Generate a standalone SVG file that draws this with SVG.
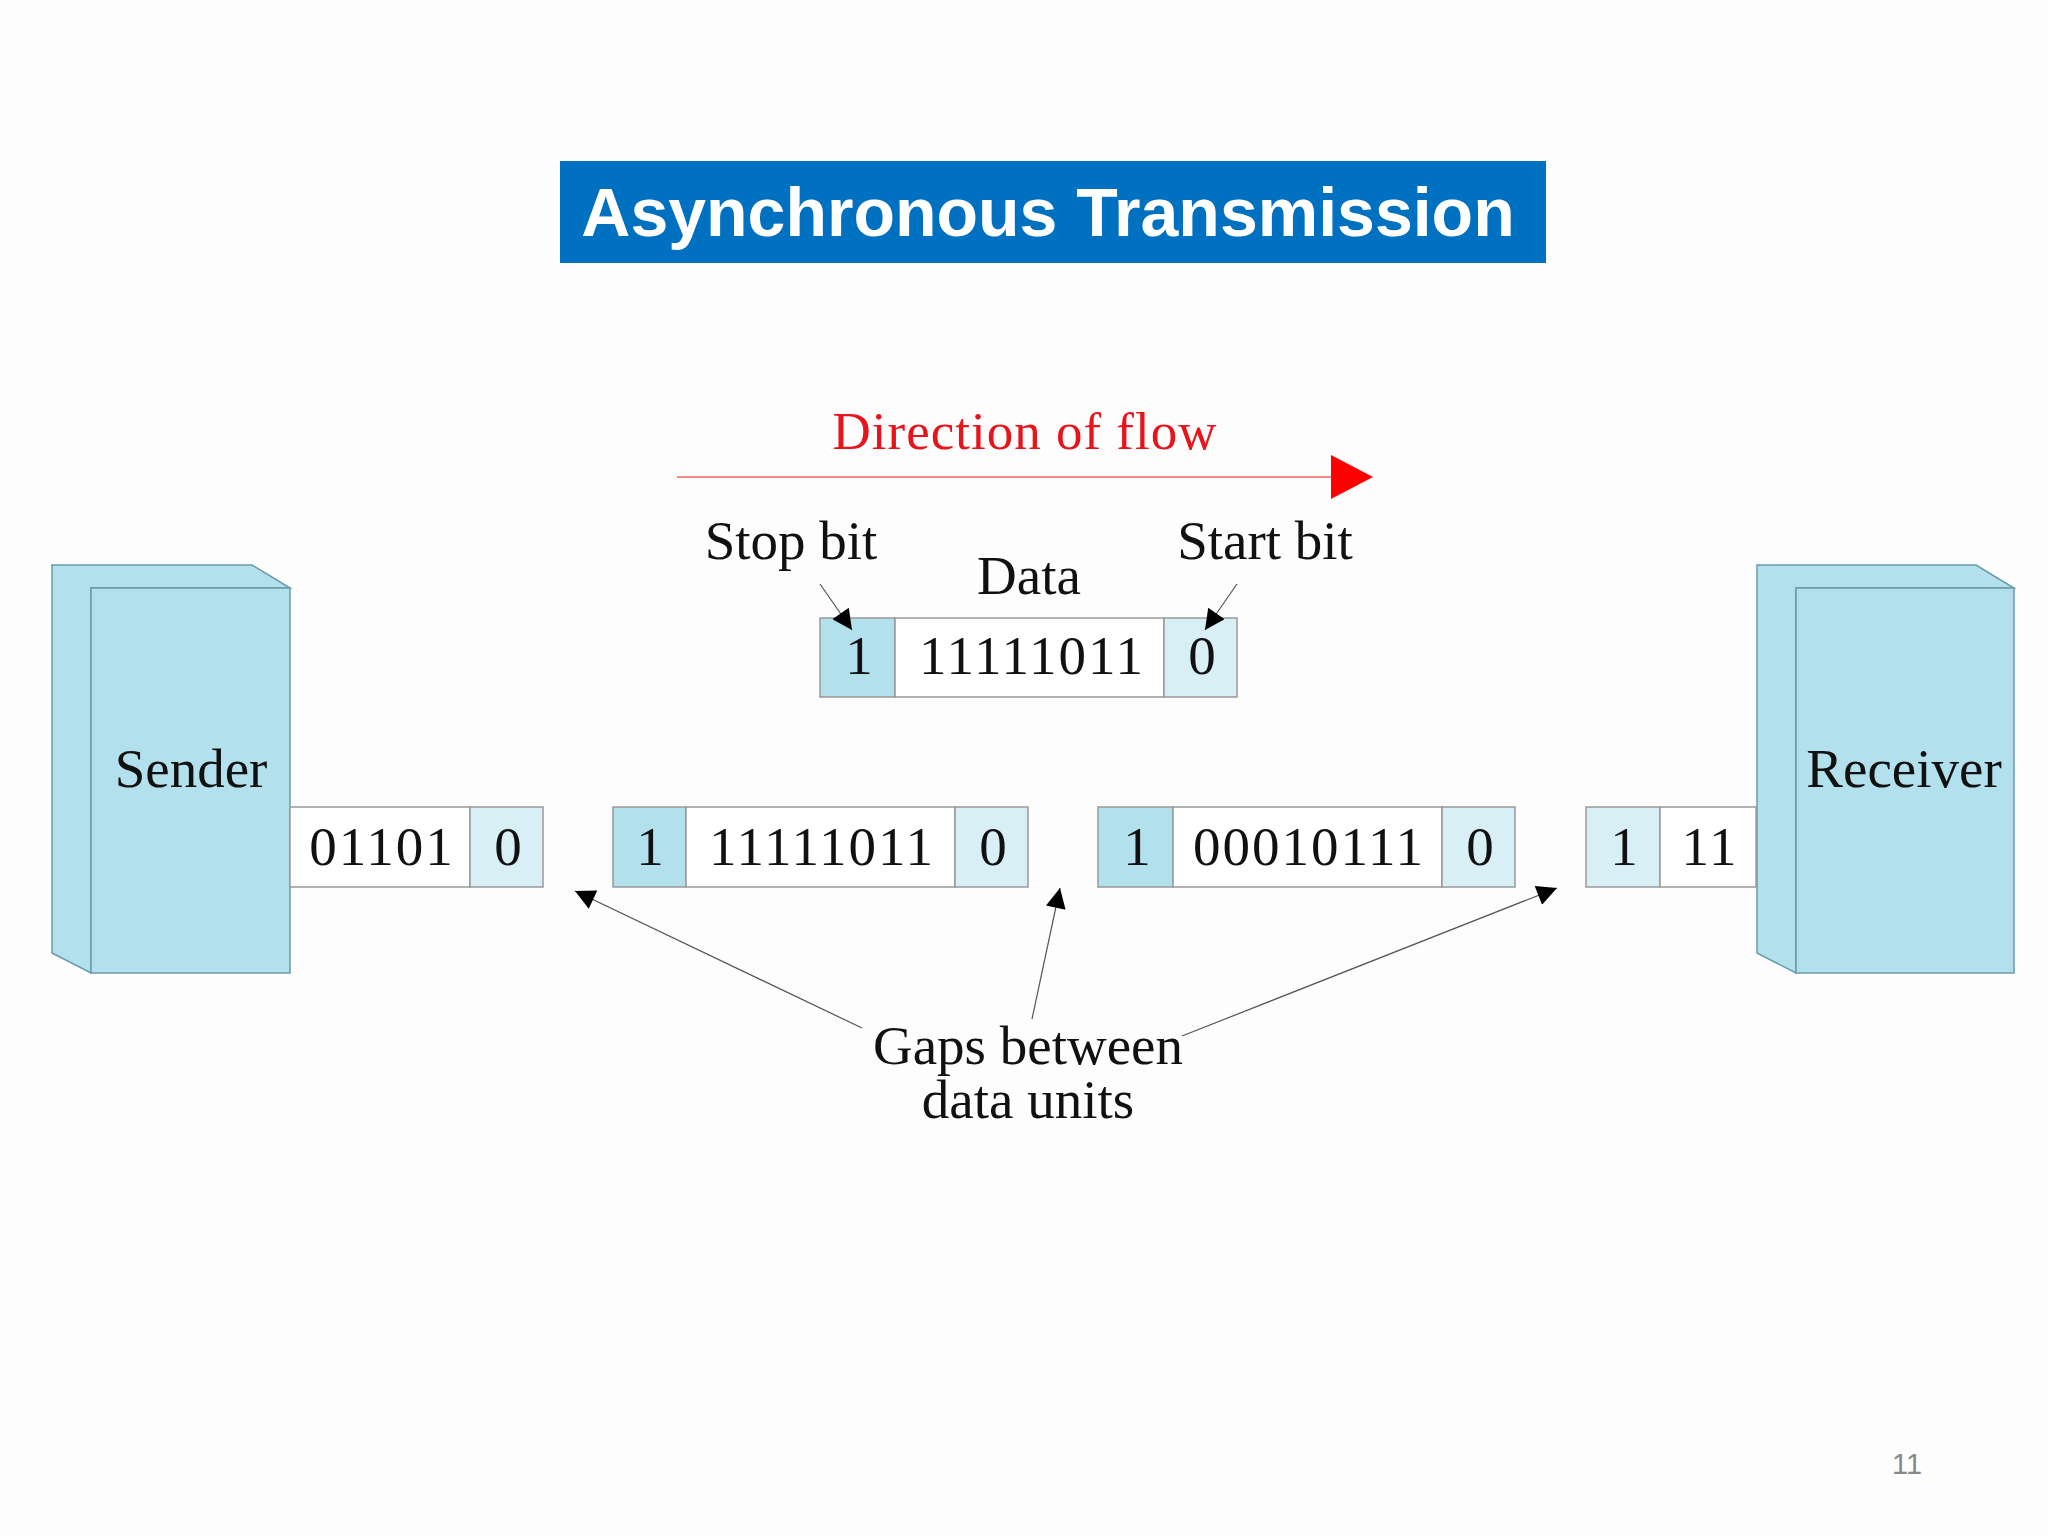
<svg xmlns="http://www.w3.org/2000/svg" width="2048" height="1536" viewBox="0 0 2048 1536">
<style>
.t{font-family:"Liberation Serif",serif;fill:#111}
.c{stroke:#999;stroke-width:1.5}
.d{fill:#b2e0ec}.l{fill:#d9eff6}.w{fill:#fff}
.box{fill:#b2e0ec;stroke:#6a9aa6;stroke-width:1.5}
.ln{stroke:#555;stroke-width:1.2;fill:none}
</style>
<defs>
<marker id="a" viewBox="0 0 10 10" refX="10" refY="5" markerWidth="22" markerHeight="20" markerUnits="userSpaceOnUse" orient="auto"><path d="M0,0L10,5L0,10z" fill="#000"/></marker>
</defs>
<rect width="2048" height="1536" fill="#fdfdfe"/>
<g id="title"><rect x="560" y="161" width="986" height="102" fill="#0070c0"/>
<text x="1048" y="236" text-anchor="middle" font-family="Liberation Sans,Arial,sans-serif" font-weight="bold" font-size="68" fill="#fff">Asynchronous Transmission</text></g>
<g id="flow"><text class="t" x="1025" y="449" text-anchor="middle" font-size="53" style="fill:#e8141c" letter-spacing="1">Direction of flow</text>
<line x1="677" y1="477" x2="1335" y2="477" stroke="#f26060" stroke-width="1.5"/>
<path d="M1331,455L1373,477L1331,499z" fill="#f00"/></g>
<g id="sender"><path class="box" d="M52,565L252,565L290,588L91,588L91,973L52,953z"/><rect class="box" x="91" y="588" width="199" height="385"/>
<text class="t" x="191" y="787" text-anchor="middle" font-size="55">Sender</text></g>
<g id="receiver"><path class="box" d="M1757,565L1976,565L2014,588L1796,588L1796,973L1757,953z"/><rect class="box" x="1796" y="588" width="218" height="385"/>
<text class="t" x="1904" y="787" text-anchor="middle" font-size="55">Receiver</text></g>
<g id="labels" class="t" font-size="55" text-anchor="middle">
<text x="791" y="559">Stop bit</text><text x="1265" y="559">Start bit</text><text x="1029" y="594">Data</text>
<text x="1028" y="1064">Gaps between</text><text x="1028" y="1118">data units</text></g>
<g id="frameTop"><rect class="d c" x="820" y="618" width="75" height="79"/><rect class="w c" x="895" y="618" width="269" height="79"/><rect class="l c" x="1164" y="618" width="73" height="79"/>
<g class="t" font-size="55" text-anchor="middle"><text x="859" y="674">1</text><text x="1032" y="674" letter-spacing="2">11111011</text><text x="1202" y="674">0</text></g></g>
<g id="frameA"><rect class="w c" x="290" y="807" width="180" height="80"/><rect class="l c" x="470" y="807" width="73" height="80"/>
<g class="t" font-size="55" text-anchor="middle"><text x="382" y="865" letter-spacing="2">01101</text><text x="508" y="865">0</text></g></g>
<g id="frameB"><rect class="d c" x="613" y="807" width="73" height="80"/><rect class="w c" x="686" y="807" width="269" height="80"/><rect class="l c" x="955" y="807" width="73" height="80"/>
<g class="t" font-size="55" text-anchor="middle"><text x="822" y="865" letter-spacing="2">11111011</text><text x="650" y="865">1</text><text x="993" y="865">0</text></g></g>
<g id="frameC"><rect class="d c" x="1098" y="807" width="75" height="80"/><rect class="w c" x="1173" y="807" width="269" height="80"/><rect class="l c" x="1442" y="807" width="73" height="80"/>
<g class="t" font-size="55" text-anchor="middle"><text x="1137" y="865">1</text><text x="1309" y="865" letter-spacing="2">00010111</text><text x="1480" y="865">0</text></g></g>
<g id="frameD"><rect class="l c" x="1586" y="807" width="74" height="80"/><rect class="w c" x="1660" y="807" width="96" height="80"/>
<g class="t" font-size="55" text-anchor="middle"><text x="1624" y="865">1</text><text x="1710" y="865" letter-spacing="2">11</text></g></g>
<g id="connectors">
<line class="ln" x1="820" y1="584" x2="852" y2="630" marker-end="url(#a)"/>
<line class="ln" x1="1237" y1="584" x2="1205" y2="630" marker-end="url(#a)"/>
<line class="ln" x1="862" y1="1028" x2="575" y2="891" marker-end="url(#a)"/>
<line class="ln" x1="1032" y1="1019" x2="1060" y2="888" marker-end="url(#a)"/>
<line class="ln" x1="1182" y1="1036" x2="1557" y2="888" marker-end="url(#a)"/>
</g>
<text x="1907" y="1474" text-anchor="middle" font-family="Liberation Sans,sans-serif" font-size="29" fill="#888">11</text>
</svg>
